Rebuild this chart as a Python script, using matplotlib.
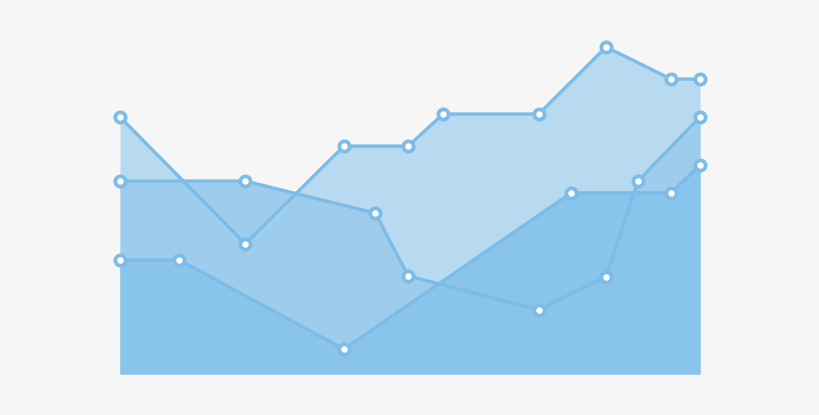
import matplotlib
matplotlib.use("Agg")
from matplotlib import pyplot as plt

# x positions on a 0..100 scale, values on a 0..100 scale
x_a = [0, 21.6, 38.6, 49.7, 55.7, 72.2, 83.8, 95.0, 100]
y_a = [78.6, 39.8, 69.7, 69.7, 79.5, 79.5, 100, 90.2, 90.2]

x_b = [0, 21.6, 44.0, 49.7, 72.2, 83.8, 89.3, 100]
y_b = [59.0, 59.0, 49.2, 30.0, 19.6, 29.7, 59.0, 78.6]

x_c = [0, 10.2, 38.6, 77.8, 95.0, 100]
y_c = [34.9, 34.9, 7.6, 55.4, 55.4, 63.9]

series = [(x_a, y_a, "#b8daf0"), (x_b, y_b, "#9ecced"), (x_c, y_c, "#89c4ea")]
line_color = "#7bbce8"
bg = "#f6f6f6"

fig = plt.figure(figsize=(8.2, 4.15), dpi=100, facecolor=bg)
ax = fig.add_axes([120 / 820, (415 - 374) / 415, 580 / 820, (374 - 47) / 415])
ax.set_facecolor(bg)

for xs, ys, fill in series:
    ax.fill_between(xs, ys, 0, color=fill, lw=0, zorder=1)

for i, (xs, ys, fill) in enumerate(series):
    ax.plot(xs, ys, color=line_color, lw=2.4, marker="o", markersize=7.4,
            markerfacecolor="white", markeredgecolor=line_color,
            markeredgewidth=2.7, clip_on=False, zorder=3 + i)

ax.set_xlim(0, 100)
ax.set_ylim(0, 100)
ax.axis("off")

fig.savefig("out.png", dpi=100, facecolor=bg)
